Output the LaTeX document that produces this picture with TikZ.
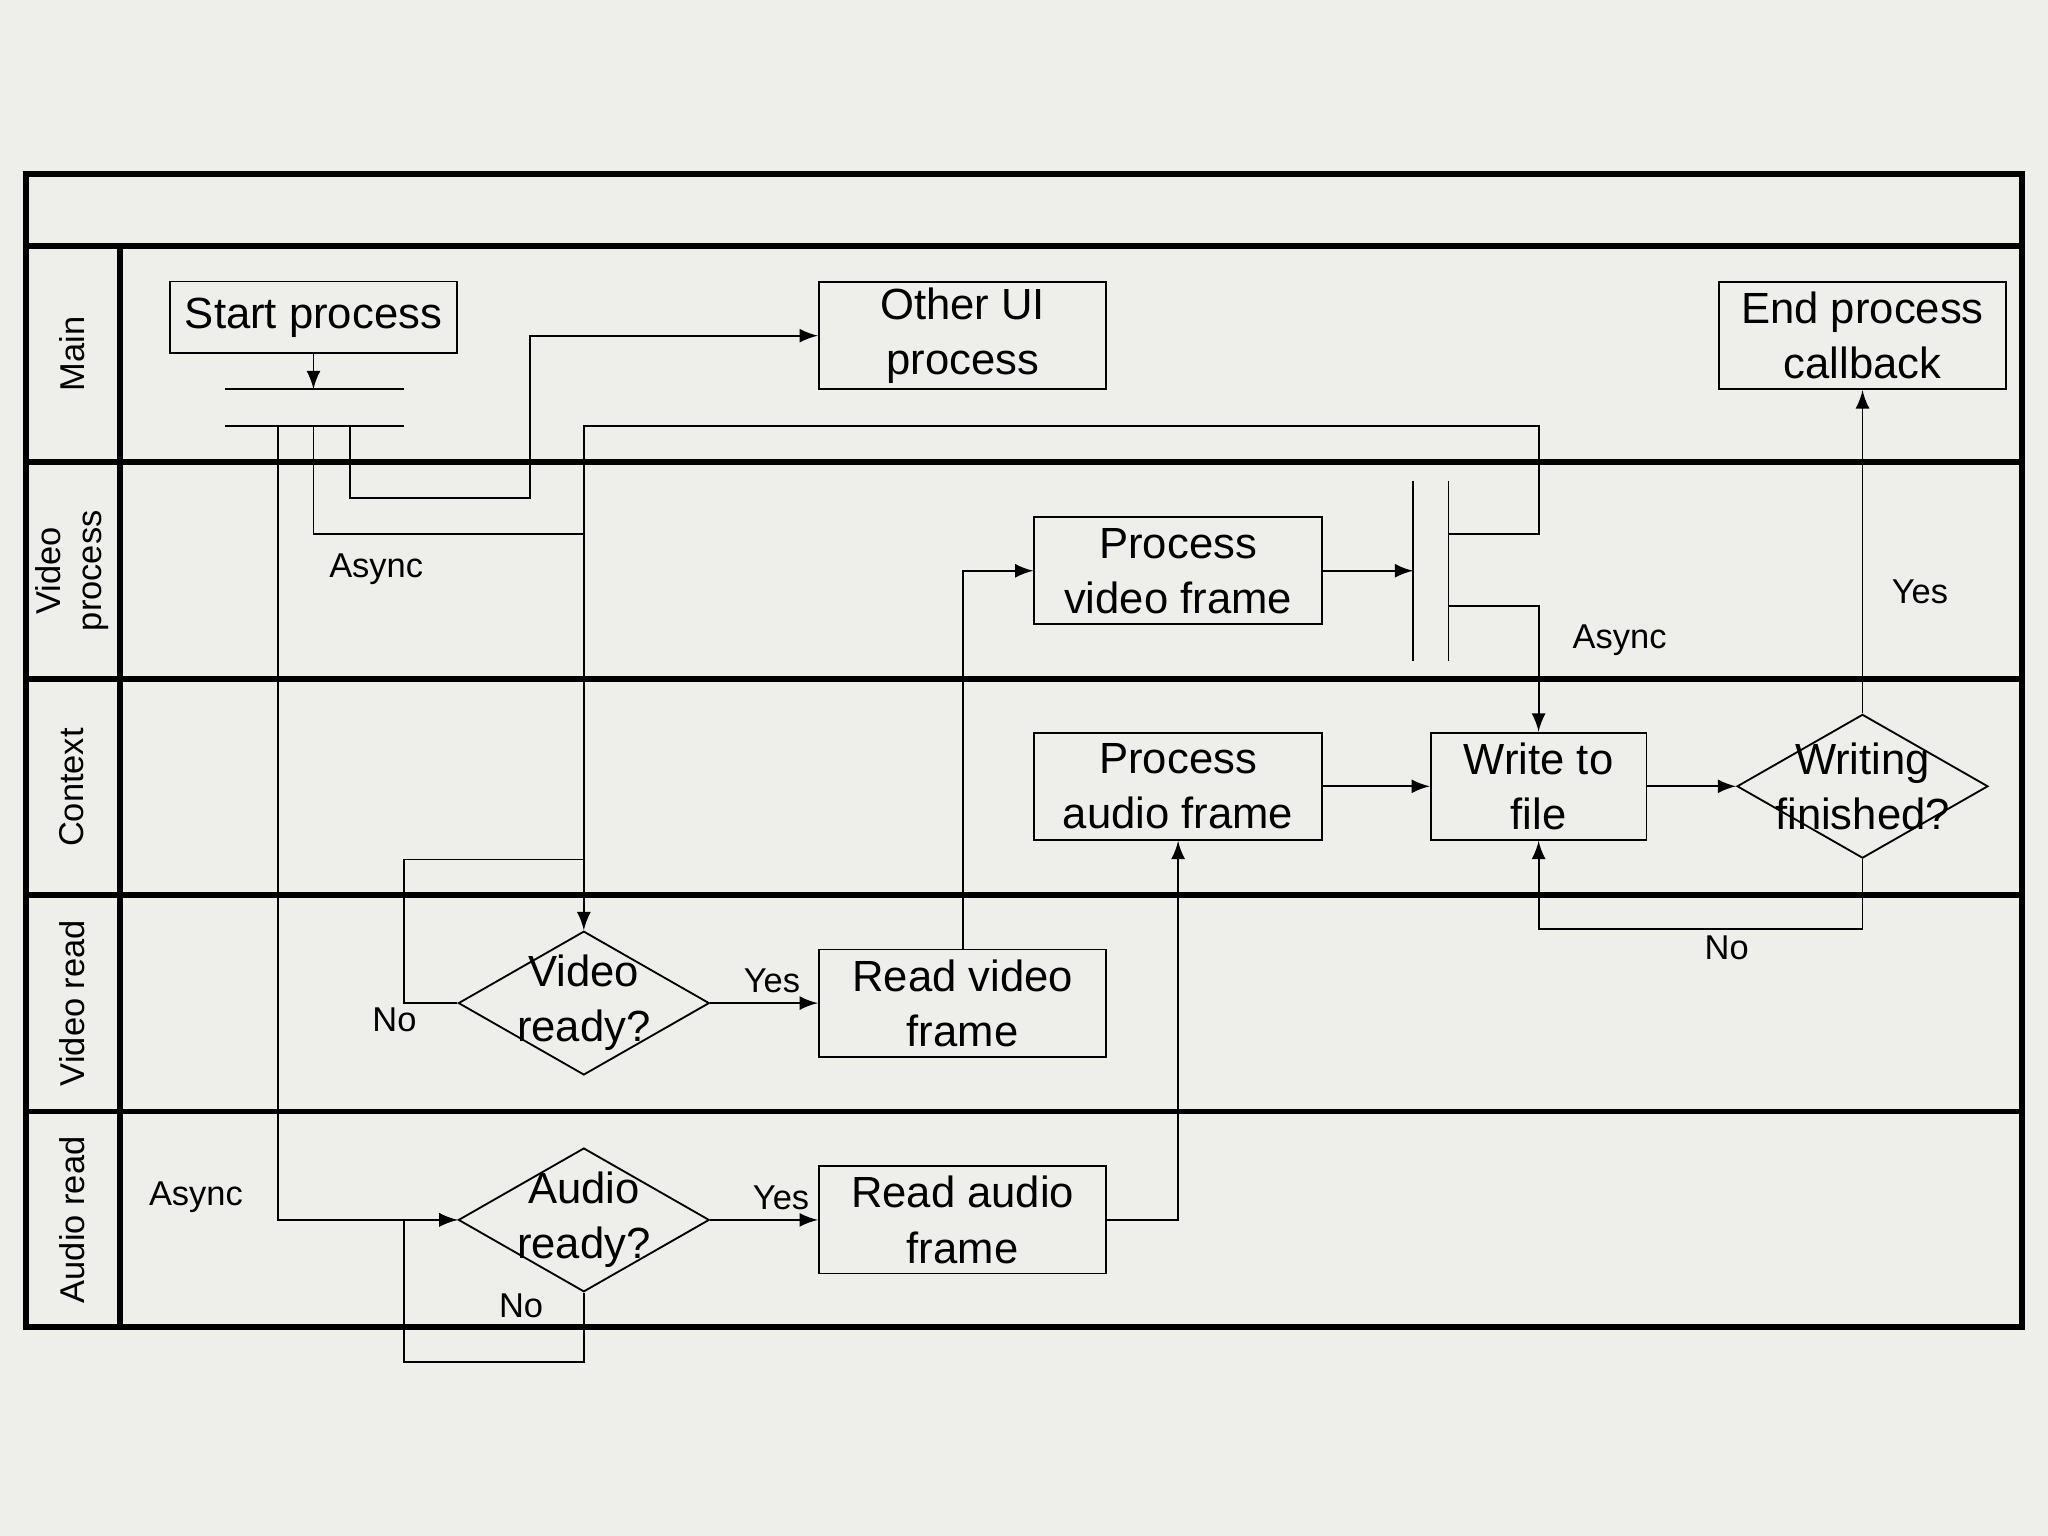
\documentclass[tikz,border=0pt]{standalone}
\usepackage{fontspec}
\setmainfont{Liberation Sans}
\usetikzlibrary{shapes.geometric, arrows, positioning, calc}
\definecolor{paper}{HTML}{EEEEEA}

\begin{document}
\begin{tikzpicture}[x=0.01cm, y=-0.01cm, >=latex, font=\fontsize{9.5}{12}\selectfont]
\tikzset{
  task/.style={draw, minimum width=2.2cm, minimum height=0.82cm, align=center, inner sep=1pt},
  test/.style={draw, diamond, minimum width=1.92cm, minimum height=1.1cm, inner sep=0pt,
    label={[align=center]center:#1}},
  lane/.style={rotate=90, align=center, font=\fontsize{7.5}{9}\selectfont},
  tag/.style={font=\fontsize{7.5}{9}\selectfont},
  wire/.style={->, thin},
  frame/.style={line width=1.3pt}
}

% paper and lanes
\fill[paper] (0,0) rectangle (1568,1176);
\draw[frame] (20,133) rectangle (1548,1016);
\foreach \y in {188,354,520,685,851}
  \draw[frame] (20,\y) -- (1548,\y);
\draw[frame] (92,188) -- (92,1016);
\node[lane] (l-main) at (55,271) {Main};
\node[lane] (l-video) at (55,437) {Video\\process};
\node[lane] (l-context) at (55,603) {Context};
\node[lane] (l-vread) at (55,768) {Video read};
\node[lane] (l-aread) at (55,934) {Audio read};

% nodes
\node[task, minimum height=0.55cm] (start) at (240,243) {Start process};
\node[task] (other) at (737,257) {Other UI\\process};
\node[task] (end) at (1426,257) {End process\\callback};
\node[task] (pvideo) at (902,437) {Process\\video frame};
\node[task] (paudio) at (902,602) {Process\\audio frame};
\node[task, minimum width=1.65cm] (write) at (1178,602) {Write to\\file};
\node[test={Writing\\finished?}] (done) at (1426,602) {};
\node[test={Video\\ready?}] (vready) at (447,768) {};
\node[task] (rvideo) at (737,768) {Read video\\frame};
\node[test={Audio\\ready?}] (aready) at (447,934) {};
\node[task] (raudio) at (737,934) {Read audio\\frame};

% fork and join bars
\draw (172,298) -- (309,298);
\draw (172,326) -- (309,326);
\draw (1082,368) -- (1082,506);
\draw (1109,368) -- (1109,506);
\coordinate (fork) at (240,298);
\coordinate (join) at (1082,437);

% connectors
\draw[wire] (start) -- (fork);
\draw[wire] (213,326) |- (aready.west);
\draw[wire] (240,326) |- (447,409) -- (vready.north);
\draw[wire] (268,326) |- (406,381) |- (other.west);
\draw (1109,409) -| (1178,326) -| (447,409);
\draw[wire] (1109,464) -| (write.north);
\draw[wire] (pvideo) -- (join);
\draw[wire] (rvideo.north) |- (pvideo.west);
\draw[wire] (vready) -- (rvideo);
\draw (vready.west) -| (309,658) -| (447,409);
\draw[wire] (aready) -- (raudio);
\draw[wire] (aready.south) |- (309,1043) |- (aready.west);
\draw[wire] (raudio.east) -| (paudio.south);
\draw[wire] (paudio) -- (write);
\draw[wire] (write) -- (done);
\draw[wire] (done.south) |- (1178,711) -- (write.south);
\draw[wire] (done.north) -- (end.south);

% labels
\node[tag] (t-async1) at (288,436) {Async};
\node[tag] (t-async2) at (150,917) {Async};
\node[tag] (t-async3) at (1240,490) {Async};
\node[tag] (t-vyes) at (591,751) {Yes};
\node[tag] (t-vno) at (302,781) {No};
\node[tag] (t-ayes) at (598,917) {Yes};
\node[tag] (t-ano) at (399,1000) {No};
\node[tag] (t-dno) at (1322,726) {No};
\node[tag] (t-dyes) at (1470,453) {Yes};
\end{tikzpicture}
\end{document}
